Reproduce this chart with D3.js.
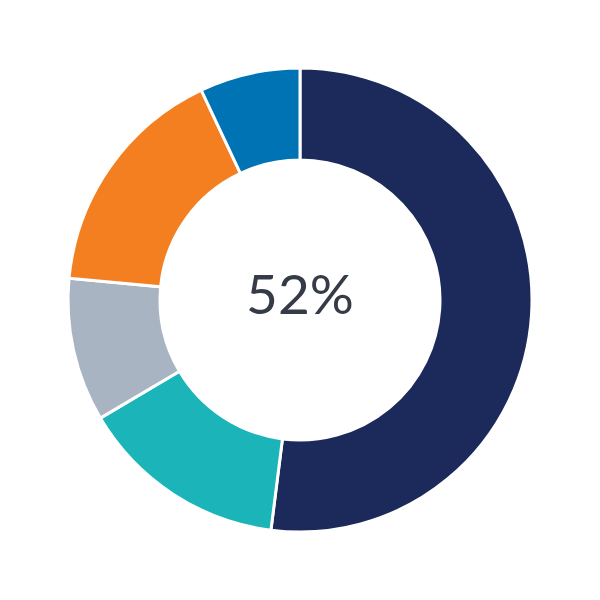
<!DOCTYPE html>
<html>
<head>
<meta charset="utf-8">
<script src="https://cdn.jsdelivr.net/npm/d3@7"></script>
<style>
  body { margin: 0; background: #fff; }
</style>
</head>
<body>
<div id="chart"></div>
<script>
// slices, clockwise from 12 o'clock
var categories = ["A", "B", "C", "D", "E"];
var values = [52, 14.5, 10, 16.5, 7];
var colors = ["#1b2a5a", "#1bb4b8", "#a9b4c2", "#f47f20", "#0073b4"];
var centerLabel = "52%";

var width = 600, height = 600;
var outerR = 232, innerR = 140;

var svg = d3.select("#chart")
    .append("svg")
    .attr("width", width)
    .attr("height", height);

var g = svg.append("g")
    .attr("transform", "translate(" + width / 2 + "," + height / 2 + ")");

var pie = d3.pie().sort(null).value(function (d) { return d; });
var arc = d3.arc().innerRadius(innerR).outerRadius(outerR);

g.selectAll("path")
    .data(pie(values))
    .enter()
    .append("path")
    .attr("d", arc)
    .attr("fill", function (d, i) { return colors[i]; })
    .attr("stroke", "#fff")
    .attr("stroke-width", 3);

// baseline sits a bit below center
g.append("text")
    .attr("text-anchor", "middle")
    .attr("y", 14)
    .style("font-family", "Lato, 'Open Sans', sans-serif")
    .style("font-weight", 400)
    .style("font-size", "55px")
    .style("fill", "#363c47")
    .text(centerLabel);
</script>
</body>
</html>
